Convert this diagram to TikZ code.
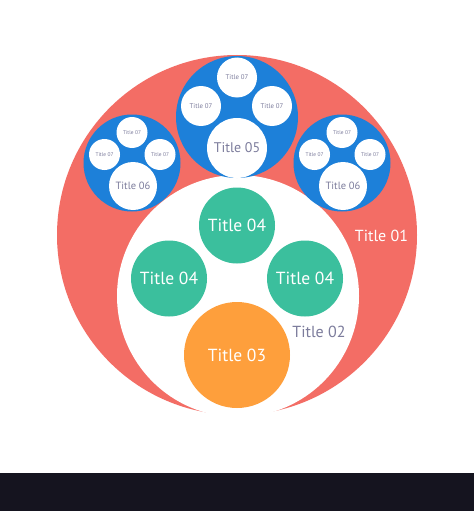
\documentclass[tikz,border=0pt]{standalone}
\usepackage{fontspec}
\setmainfont{PT Sans}
\usetikzlibrary{positioning}

\definecolor{ringred}{HTML}{F36D65}
\definecolor{hubblue}{HTML}{1D80D9}
\definecolor{leafgreen}{HTML}{3BBF9D}
\definecolor{coreorange}{HTML}{FE9F3C}
\definecolor{titlegray}{HTML}{7C7C9C}
\definecolor{barblack}{HTML}{15141F}

\begin{document}
\begin{tikzpicture}[
    x=1pt, y=-1pt,
    disc/.style={circle, inner sep=0pt, minimum size=#1},
    hub/.style={disc=#1, fill=hubblue},
    bubble/.style={disc=#1, fill=white, text=titlegray},
    leaf/.style={disc=76pt, fill=leafgreen, text=white, font=\fontsize{17.5}{18}\selectfont},
    small/.style={font=\fontsize{#1}{#1}\selectfont}
]
\useasboundingbox (0,0) rectangle (474,511);
\fill[white] (0,0) rectangle (474,511);

% Outer ring
\node[disc=360pt, fill=ringred] (outer) at (237,235) {};
\node[disc=242pt, fill=white] (inner) at (238,296) {};

% Blue hubs
\node[hub=122pt] (hubmid) at (237,117) {};
\node[hub=97pt] (hubleft) at (132,163) {};
\node[hub=97pt] (hubright) at (342,163) {};

% Middle hub
\node[bubble=60pt, small=14] (t05) at (237,148) {Title 05};
\node[bubble=40pt, small=6.8] (m07a) at (237,77.5) {Title 07};
\node[bubble=40pt, small=6.8] (m07b) at (201,106) {Title 07};
\node[bubble=40pt, small=6.8] (m07c) at (272,106) {Title 07};

% Left hub
\node[bubble=48pt, small=10.5] (t06l) at (133,186) {Title 06};
\node[bubble=31pt, small=5.4] (l07a) at (132,132.5) {Title 07};
\node[bubble=31pt, small=5.4] (l07b) at (104.5,154.5) {Title 07};
\node[bubble=31pt, small=5.4] (l07c) at (160,154.5) {Title 07};

% Right hub
\node[bubble=48pt, small=10.5] (t06r) at (343,186) {Title 06};
\node[bubble=31pt, small=5.4] (r07a) at (342,132.5) {Title 07};
\node[bubble=31pt, small=5.4] (r07b) at (314.5,154.5) {Title 07};
\node[bubble=31pt, small=5.4] (r07c) at (370,154.5) {Title 07};

% Green and orange circles
\node[leaf] (t04top) at (237,225.5) {Title 04};
\node[leaf] (t04left) at (169,278.5) {Title 04};
\node[leaf] (t04right) at (305,278.5) {Title 04};
\node[disc=106pt, fill=coreorange, text=white, font=\fontsize{17.5}{18}\selectfont] (t03) at (237,355) {Title 03};

% Labels
\node[text=white, small=16] (t01) at (381.5,235.5) {Title 01};
\node[text=titlegray, small=16] (t02) at (319,332) {Title 02};

% Bottom bar
\fill[barblack] (0,473) rectangle (474,511);
\end{tikzpicture}
\end{document}
